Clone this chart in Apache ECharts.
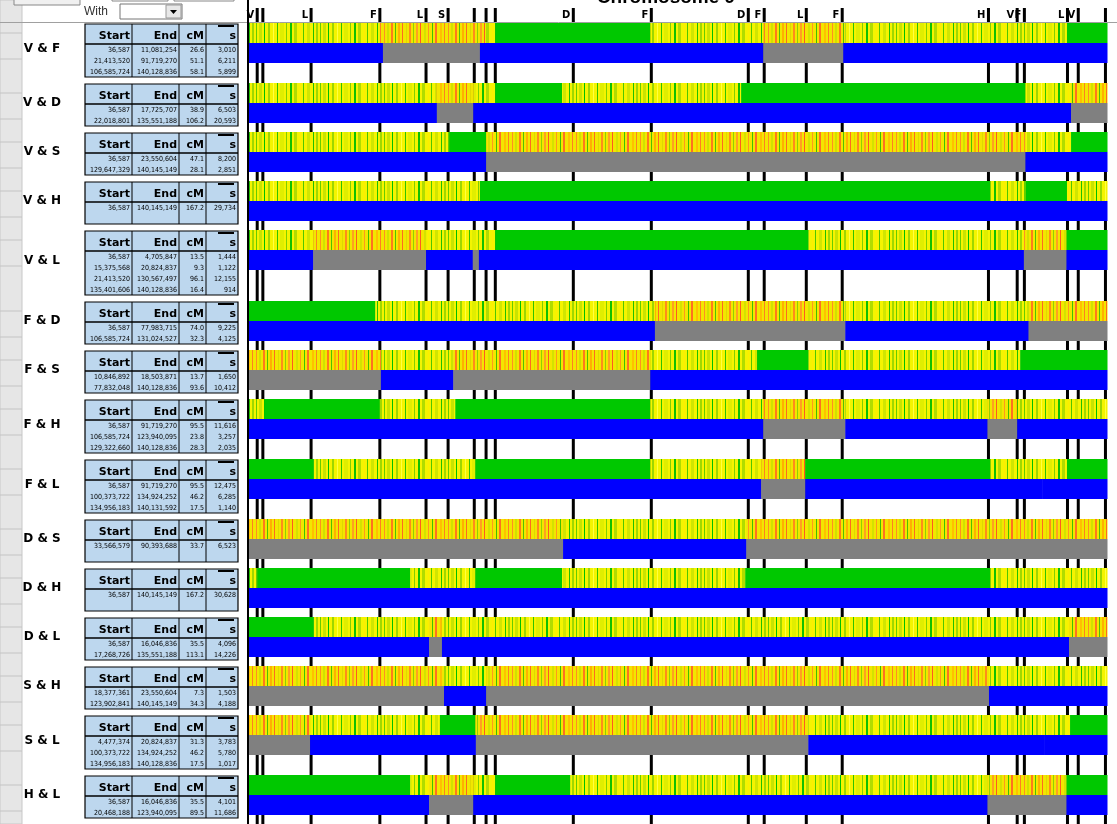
<!DOCTYPE html>
<html><head><meta charset="utf-8">
<script src="https://cdn.jsdelivr.net/npm/echarts@6/dist/echarts.min.js"></script>
<style>html,body{margin:0;padding:0;background:#fff}#c{width:1117px;height:824px}</style>
</head><body><div id="c"></div>
<script>
// ---------- data ----------
const chromLenCM = 167.2;
const pairNames = ['V & F','V & D','V & S','V & H','V & L','F & D','F & S','F & H','F & L','D & S','D & H','D & L','S & H','S & L','H & L'];
const tableRows = [
  [['36,587','11,081,254','26.6','3,010'],['21,413,520','91,719,270','51.1','6,211'],['106,585,724','140,128,836','58.1','5,899']],
  [['36,587','17,725,707','38.9','6,503'],['22,018,801','135,551,188','106.2','20,593']],
  [['36,587','23,550,604','47.1','8,200'],['129,647,329','140,145,149','28.1','2,851']],
  [['36,587','140,145,149','167.2','29,734']],
  [['36,587','4,705,847','13.5','1,444'],['15,375,568','20,824,837','9.3','1,122'],['21,413,520','130,567,497','96.1','12,155'],['135,401,606','140,128,836','16.4','914']],
  [['36,587','77,983,715','74.0','9,225'],['106,585,724','131,024,527','32.3','4,125']],
  [['10,846,892','18,503,871','13.7','1,650'],['77,832,048','140,128,836','93.6','10,412']],
  [['36,587','91,719,270','95.5','11,616'],['106,585,724','123,940,095','23.8','3,257'],['129,322,660','140,128,836','28.3','2,035']],
  [['36,587','91,719,270','95.5','12,475'],['100,373,722','134,924,252','46.2','6,285'],['134,956,183','140,131,592','17.5','1,140']],
  [['33,566,579','90,393,688','33.7','6,523']],
  [['36,587','140,145,149','167.2','30,628']],
  [['36,587','16,046,836','35.5','4,096'],['17,268,726','135,551,188','113.1','14,226']],
  [['18,377,361','23,550,604','7.3','1,503'],['123,902,841','140,145,149','34.3','4,188']],
  [['4,477,374','20,824,837','31.3','3,783'],['100,373,722','134,924,252','46.2','5,780'],['134,956,183','140,128,836','17.5','1,017']],
  [['36,587','16,046,836','35.5','4,101'],['20,468,188','123,940,095','89.5','11,686']]
];
// matching (blue) segments in cM
const blueSegs = [
  [[0,26.1],[45,100.2],[115.8,167.2]],
  [[0,36.6],[43.7,160.2]],
  [[0,46.2],[151.3,167.2]],
  [[0,167.2]],
  [[0,12.5],[34.5,43.6],[44.8,151],[159.3,167.2]],
  [[0,79.1],[116.2,151.9]],
  [[25.7,39.8],[78.2,167.2]],
  [[0,100.2],[116.2,143.9],[149.7,167.2]],
  [[0,99.8],[108.4,154.6],[154.6,167.2]],
  [[61.2,96.9]],
  [[0,167.2]],
  [[0,35.1],[37.6,159.8]],
  [[38,46.2],[144.2,167.2]],
  [[11.9,44.2],[109,155],[155,167.2]],
  [[0,35.1],[43.7,143.9],[159.3,167.2]]
];
// allele comparison stripe: G = fully identical, Y = half identical, R = mostly non-matching
const stripeSegs = [
  [[0,25.5,'Y'],[25.5,46,'R'],[46,48,'Y'],[48,78.2,'G'],[78.2,100.2,'Y'],[100.2,116.2,'R'],[116.2,159.4,'Y'],[159.4,167.2,'G']],
  [[0,36.6,'Y'],[36.6,43.7,'R'],[43.7,48,'Y'],[48,61,'G'],[61,95.9,'Y'],[95.9,151.3,'G'],[151.3,160.2,'Y'],[160.2,167.2,'R']],
  [[0,39,'Y'],[39,46.2,'G'],[46.2,151.3,'R'],[151.3,160.2,'Y'],[160.2,167.2,'G']],
  [[0,45,'Y'],[45,144.4,'G'],[144.4,151.3,'Y'],[151.3,159.4,'G'],[159.4,167.2,'Y']],
  [[0,12.5,'Y'],[12.5,34.5,'R'],[34.5,48,'Y'],[48,109,'G'],[109,151,'Y'],[151,159.3,'R'],[159.3,167.2,'G']],
  [[0,24.6,'G'],[24.6,79.1,'Y'],[79.1,116.2,'R'],[116.2,151.9,'Y'],[151.9,167.2,'R']],
  [[0,25.7,'R'],[25.7,39.8,'Y'],[39.8,78.2,'R'],[78.2,99,'Y'],[99,109,'G'],[109,150.3,'Y'],[150.3,167.2,'G']],
  [[0,3.1,'Y'],[3.1,25.5,'G'],[25.5,40.2,'Y'],[40.2,78.2,'G'],[78.2,100.2,'Y'],[100.2,116.2,'R'],[116.2,143.9,'Y'],[143.9,149.7,'R'],[149.7,167.2,'Y']],
  [[0,12.5,'G'],[12.5,44.1,'Y'],[44.1,78.2,'G'],[78.2,99.8,'Y'],[99.8,108.4,'R'],[108.4,144.4,'G'],[144.4,159.4,'Y'],[159.4,167.2,'G']],
  [[0,61.2,'R'],[61.2,96.9,'Y'],[96.9,167.2,'R']],
  [[0,1.6,'Y'],[1.6,31.4,'G'],[31.4,44.1,'Y'],[44.1,61,'G'],[61,96.7,'Y'],[96.7,144.4,'G'],[144.4,167.2,'Y']],
  [[0,12.5,'G'],[12.5,35.1,'Y'],[35.1,37.6,'R'],[37.6,159.8,'Y'],[159.8,167.2,'R']],
  [[0,38,'R'],[38,46.2,'Y'],[46.2,144.2,'R'],[144.2,167.2,'Y']],
  [[0,11.9,'R'],[11.9,37.2,'Y'],[37.2,44.1,'G'],[44.1,109,'R'],[109,160,'Y'],[160,167.2,'G']],
  [[0,31.4,'G'],[31.4,35.1,'Y'],[35.1,43.7,'R'],[43.7,48,'Y'],[48,62.6,'G'],[62.6,143.9,'Y'],[143.9,159.3,'R'],[159.3,167.2,'G']]
];
const markerPos = [1.6,2.7,12.1,25.5,34.5,38.8,43.9,46.2,48.0,63.2,78.4,97.3,100.4,108.6,115.6,144.1,149.7,151.1,159.5,161.6,166.9];
const markerLabels = ['V','','L','F','L','S','','','','D','F','D','F','L','F','H','V','F','L','V',''];
const titleText = 'Chromosome 9';

// ---------- layout ----------
const rowTop = [];
{ let y = 23; for (const t of tableRows) { rowTop.push(y); y += 27 + 11 * Math.max(t.length, 2); } }

// ---------- textures (style) ----------
function makePattern(base, stripes) {
  const c = document.createElement('canvas'); c.width = 64; c.height = 20;
  const g = c.getContext('2d'); g.fillStyle = base; g.fillRect(0,0,64,20);
  for (const [x,w,col] of stripes) { g.fillStyle = col; g.fillRect(x,0,w,20); }
  return {image: c, repeat: 'repeat'};
}
const patY = makePattern('#f4f400', [[0,1,'#66cc00'],[3,3,'#c8e400'],[8,1,'#00c000'],[12,2,'#9ed600'],[17,1,'#ffff40'],[21,1,'#30c200'],[24,4,'#e0ee00'],[30,1,'#80d000'],[34,2,'#10c000'],[38,3,'#b0dc00'],[44,1,'#ffec00'],[47,1,'#50c600'],[51,3,'#d0e600'],[57,1,'#20c000'],[60,2,'#a0d800']]);
const patR = makePattern('#f2e600', [[0,1,'#ff9020'],[3,2,'#d0e200'],[7,2,'#ff7a1a'],[11,1,'#50c200'],[14,2,'#ffb000'],[18,1,'#ff6a20'],[22,1,'#e0d800'],[25,2,'#ff8c1a'],[29,1,'#90d200'],[32,2,'#ffa020'],[36,1,'#ff5a20'],[40,2,'#d4e200'],[44,1,'#ff9a1a'],[48,1,'#40c000'],[51,2,'#ff7020'],[56,2,'#ffc000'],[60,1,'#ff8020']]);
const fills = {G: '#00c800', Y: patY, R: patR};

// ---------- series data ----------
const barData = [];
pairNames.forEach((_, r) => {
  stripeSegs[r].forEach(s => barData.push([r, s[0], s[1], 'S' + s[2]]));
  let prev = 0;
  blueSegs[r].forEach(s => {
    if (s[0] > prev + 0.05) barData.push([r, prev, s[0], 'gray']);
    barData.push([r, s[0], s[1], 'blue']); prev = s[1];
  });
  if (prev < chromLenCM - 0.05) barData.push([r, prev, chromLenCM, 'gray']);
});

function renderBar(params, api) {
  const d = barData[params.dataIndex];
  const x0 = api.coord([d[1], 0])[0], x1 = api.coord([d[2], 0])[0];
  const top = rowTop[d[0]];
  let fill, y;
  if (d[3] === 'blue') { fill = '#0000ff'; y = top + 20; }
  else if (d[3] === 'gray') { fill = '#808080'; y = top + 20; }
  else { fill = fills[d[3].slice(1)]; y = top; }
  return {type: 'rect', shape: {x: x0, y: y, width: x1 - x0 + 0.5, height: 20}, style: {fill: fill}};
}
function renderMarker(params, api) {
  const x = api.coord([api.value(0), 0])[0];
  const lab = markerLabels[params.dataIndex];
  const children = [{type: 'rect', shape: {x: x - 1.5, y: 8, width: 3, height: 816}, style: {fill: '#000'}}];
  if (lab) children.push({type: 'text', x: x - 3, y: 15, style: {text: lab, fill: '#000', font: 'bold 10px "DejaVu Sans"', align: 'right', verticalAlign: 'middle'}});
  return {type: 'group', children: children};
}

// ---------- tables / decorations ----------
const graphics = [];
graphics.push({type:'rect', shape:{x:0,y:0,width:22,height:824}, style:{fill:'#e6e6e6', stroke:'#c8c8c8'}, z:1});
rowTop.forEach(t => { [t+10, t+36].forEach(yy => graphics.push({type:'line', shape:{x1:0,y1:yy,x2:22,y2:yy}, style:{stroke:'#c4c4c4'}, z:2})); });
graphics.push({type:'line', shape:{x1:0,y1:22.5,x2:1117,y2:22.5}, style:{stroke:'#a0a0a0', lineWidth:1}, z:3});
graphics.push({type:'rect', shape:{x:247,y:0,width:2,height:824}, style:{fill:'#000'}, z:3});
graphics.push({type:'rect', shape:{x:14,y:-4,width:66,height:9}, style:{fill:'#f0f0f0', stroke:'#888'}, z:3});
graphics.push({type:'rect', shape:{x:112,y:-4,width:56,height:5}, style:{fill:'#fff', stroke:'#888'}, z:3});
graphics.push({type:'rect', shape:{x:174,y:-4,width:60,height:5}, style:{fill:'#fff', stroke:'#888'}, z:3});
graphics.push({type:'text', x:84, y:12, style:{text:'With', font:'12px "Liberation Sans"', fill:'#333', verticalAlign:'middle'}, z:3});
graphics.push({type:'rect', shape:{x:120,y:4,width:62,height:15}, style:{fill:'#fff', stroke:'#777'}, z:3});
graphics.push({type:'rect', shape:{x:166,y:5,width:15,height:13}, style:{fill:'#e8e8e8', stroke:'#999'}, z:3});
graphics.push({type:'polygon', shape:{points:[[170,10],[177,10],[173.5,14]]}, style:{fill:'#000'}, z:4});
graphics.push({type:'text', x:666, y:-2, style:{text:titleText, font:'bold 19px "Liberation Sans"', fill:'#000', align:'center', verticalAlign:'middle'}, z:3});
const colX = [85, 132, 179, 206, 238];
const hdr = ['Start', 'End', 'cM', 's'];
pairNames.forEach((name, r) => {
  const top = rowTop[r] + 1, n = Math.max(tableRows[r].length, 2);
  const h = 20 + 11 * n;
  graphics.push({type:'text', x:42, y: top + h/2 - 2, style:{text:name, font:'bold 12px "DejaVu Sans"', fill:'#000', align:'center', verticalAlign:'middle'}, z:5});
  graphics.push({type:'rect', shape:{x:85,y:top,width:153,height:h}, style:{fill:'#bdd7ee', stroke:'#000', lineWidth:1.2}, z:4});
  graphics.push({type:'line', shape:{x1:85,y1:top+20,x2:238,y2:top+20}, style:{stroke:'#000', lineWidth:1.5}, z:5});
  for (let i = 1; i < 4; i++) graphics.push({type:'line', shape:{x1:colX[i],y1:top,x2:colX[i],y2:top+h}, style:{stroke:'#000', lineWidth:1}, z:5});
  hdr.forEach((t, i) => graphics.push({type:'text', x: colX[i+1] - 2, y: top + 12, style:{text:t, font:'bold 11px "DejaVu Sans"', fill:'#000', align:'right', verticalAlign:'middle'}, z:6}));
  graphics.push({type:'rect', shape:{x:218,y:top+1,width:16,height:2}, style:{fill:'#000'}, z:6});
  tableRows[r].forEach((row, k) => {
    row.forEach((t, i) => graphics.push({type:'text', x: colX[i+1] - 2, y: top + 26 + 11*k, style:{text:t, font:'7px "DejaVu Sans Condensed", "Liberation Sans Narrow", "Liberation Sans"', fill:'#000', align:'right', verticalAlign:'middle'}, z:6}));
  });
});

const chart = echarts.init(document.getElementById('c'), null, {renderer: 'canvas'});
chart.setOption({
  backgroundColor: '#fff',
  animation: false,
  grid: {left: 249, right: 10, top: 0, bottom: 0},
  xAxis: {type: 'value', min: 0, max: chromLenCM, show: false},
  yAxis: {type: 'value', min: 0, max: 824, inverse: true, show: false},
  series: [
    {type: 'custom', renderItem: renderMarker, data: markerPos.map(v => [v]), z: 1, silent: true},
    {type: 'custom', renderItem: renderBar, data: barData.map(d => [d[1], d[2]]), z: 2, silent: true}
  ],
  graphic: graphics
});
</script></body></html>
